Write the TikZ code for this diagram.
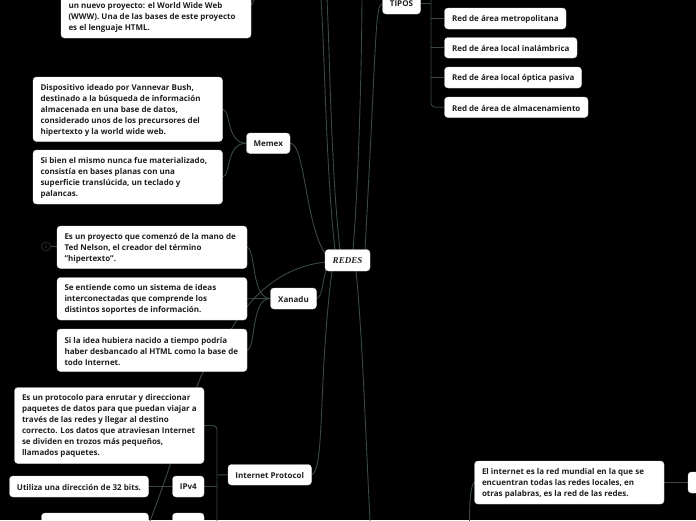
\documentclass[tikz,border=0pt]{standalone}
\usepackage{fontspec}
\setmainfont{Open Sans}
\newfontfamily\redesfont{Liberation Serif}
\pgfdeclarelayer{bglayer}
\pgfdeclarelayer{connlayer}
\pgfsetlayers{bglayer,connlayer,main}
\definecolor{linkc}{HTML}{3A4A40}
\tikzset{
  boxnode/.style={fill=white,draw=white!85!black,line width=0.4pt,rounded corners=3.5pt,inner sep=0pt,font=\fontsize{8}{11}\selectfont\bfseries,text=black!88},
  link/.style={draw=linkc,line width=0.9pt},
  trunk/.style={link,rounded corners=4pt}
}
\newcommand{\tbox}[6]{%
  \pgfmathsetmacro\bw{#4-#2}\pgfmathsetmacro\bh{#5-#3}\pgfmathsetmacro\tw{\bw-15}%
  \pgfmathsetmacro\cx{(#2+#4)/2}\pgfmathsetmacro\cy{(#3+#5)/2}%
  \node[boxnode,minimum width=\bw pt,minimum height=\bh pt] (#1) at (\cx,\cy) {\raisebox{-0.9pt}[\height][\depth]{\makebox[\tw pt][l]{\parbox{400pt}{#6}}}};}
\newcommand{\cbox}[6]{%
  \pgfmathsetmacro\bw{#4-#2}\pgfmathsetmacro\bh{#5-#3}%
  \pgfmathsetmacro\cx{(#2+#4)/2}\pgfmathsetmacro\cy{(#3+#5)/2}%
  \node[boxnode,minimum width=\bw pt,minimum height=\bh pt] (#1) at (\cx,\cy) {\raisebox{-0.5pt}[\height][\depth]{#6}};}
\begin{document}
\begin{tikzpicture}[x=1pt,y=-1pt]
\useasboundingbox (0,0) rectangle (696,520);
\begin{pgfonlayer}{bglayer}
  \fill[black] (0,0) rectangle (696,520);
\end{pgfonlayer}

\tbox{www}{61}{-4}{251}{38}{un nuevo proyecto: el World Wide Web\\(WWW). Una de las bases de este proyecto\\es el lenguaje HTML.}
\tbox{m1}{33}{77}{222.5}{141.5}{Dispositivo ideado por Vannevar Bush,\\destinado a la búsqueda de información\\almacenada en una base de datos,\\considerado unos de los precursores del\\hipertexto y la world wide web.}
\tbox{m2}{33}{150}{222.5}{204}{Si bien el mismo nunca fue materializado,\\consistía en bases planas con una\\superficie translúcida, un teclado y\\palancas.}
\cbox{memex}{246.5}{133}{290}{153.5}{Memex}
\tbox{x1}{57}{226}{247}{268.5}{Es un proyecto que comenzó de la mano de\\Ted Nelson, el creador del término\\"hipertexto".}
\tbox{x2}{57}{277.5}{247}{320}{Se entiende como un sistema de ideas\\interconectadas que comprende los\\distintos soportes de información.}
\tbox{x3}{57}{329}{247}{371.5}{Si la idea hubiera nacido a tiempo podría\\haber desbancado al HTML como la base de\\todo Internet.}
\cbox{xanadu}{270.5}{288}{316.5}{309}{Xanadu}
\tbox{ip1}{14.5}{387.5}{204}{463.5}{Es un protocolo para enrutar y direccionar\\paquetes de datos para que puedan viajar a\\través de las redes y llegar al destino\\correcto. Los datos que atraviesan Internet\\se dividen en trozos más pequeños,\\llamados paquetes.}
\cbox{iproto}{228}{464.5}{311.5}{485}{Internet Protocol}
\cbox{ipv4}{172.5}{476}{204}{497}{IPv4}
\cbox{util}{9.5}{476}{148.5}{497}{Utiliza una dirección de 32 bits.}
\cbox{lowa}{41.5}{513}{148.5}{534}{}
\cbox{lowb}{172.5}{513}{204}{534}{}
\node[boxnode,minimum width=45pt,minimum height=21.5pt,font=\redesfont\fontsize{9}{11}\selectfont\bfseries\itshape] (redes) at (347.5,260.25) {REDES};
\cbox{tipos}{382.5}{-7}{420.5}{14}{TIPOS}
\tbox{t1}{444.5}{8}{566}{29}{Red de área metropolitana}
\tbox{t2}{444.5}{37.5}{577}{58}{Red de área local inalámbrica}
\tbox{t3}{444.5}{67}{581.5}{88}{Red de área local óptica pasiva}
\tbox{t4}{444.5}{97}{588}{117.5}{Red de área de almacenamiento}
\tbox{net}{474.5}{461}{664}{504}{El internet es la red mundial en la que se\\encuentran todas las redes locales, en\\otras palabras, es la red de las redes.}
\tbox{edge}{688}{472}{735}{493}{I}
\node[circle,draw=black!80!white,line width=0.6pt,minimum size=9pt,inner sep=0pt,text=black!75!white,font=\fontsize{5}{5}\selectfont] (badge) at (46,246.5) {2};

\coordinate (ra) at (326,255);
\coordinate (rb) at (335,250);
\coordinate (rc) at (340,250);
\coordinate (rd) at (353,250);
\coordinate (re) at (365,250);
\coordinate (rf) at (325.5,262);
\coordinate (rg) at (326,270);
\coordinate (rh) at (332,271);
\coordinate (ri) at (356,271);
\coordinate (top1) at (321,-1);
\coordinate (top2) at (327,-1);
\coordinate (top3) at (362,-1);
\coordinate (top4) at (254,-1);
\coordinate (low1) at (150,521);
\coordinate (low2) at (370,521);
\coordinate (low3) at (469.5,521);
\coordinate (low4) at (217,521);
\coordinate (tiptop) at (431,-1);

\begin{pgfonlayer}{connlayer}
  \draw[link] (www.east) ++(0,-12) .. controls (252.5,4) .. (top4);
  % Memex
  \draw[link] (m1.east) .. controls (231,110) and (226,143) .. (memex.west);
  \draw[link] (m2.east) .. controls (231,175) and (226,143) .. (memex.west);
  \draw[link] (memex.east) .. controls (305,143) and (305,225) .. (ra);
  % Xanadu
  \draw[link] (x1.east) .. controls (256,250) and (251,298) .. (xanadu.west);
  \draw[link] (x2.east) -- (xanadu.west);
  \draw[link] (x3.east) .. controls (256,347) and (251,298) .. (xanadu.west);
  \draw[link] (xanadu.east) .. controls (322,297) and (322,285) .. (rg);
  % upward trunks
  \draw[link] (top1) .. controls (325,60) and (326,170) .. (rb);
  \draw[link] (top2) .. controls (330,60) and (331,170) .. (rc);
  \draw[link] (top3) .. controls (361.5,80) and (358,190) .. (rd);
  \draw[link] (tipos.west) .. controls (375,6) and (377,30) .. (re);
  % long curve
  \draw[link] (rf) .. controls (290,266) and (258,285) .. (232,328) -- (203,372) .. controls (190,400) and (170,470) .. (low1);
  % Internet Protocol
  \draw[link] (iproto.east) .. controls (325,470) and (318,380) .. (rh);
  \draw[link] (ri) .. controls (362,330) and (365,420) .. (low2);
  \draw[link] (net.west) .. controls (471,484) and (469.5,500) .. (low3);
  \draw[link] (net.east) -- (edge.west);
  \draw[trunk] (ip1.east) -| (low4);
  \draw[link] (iproto.west) -- (217,475);
  \draw[link] (ipv4.east) -- (217,486.5);
  \draw[link] (util.east) -- (ipv4.west);
  % TIPOS
  \draw[link] (tipos.east) -- (431,3.5);
  \draw[trunk] (tiptop) |- (t4.west);
  \draw[link] (431,18.5) -- (t1.west);
  \draw[link] (431,47.75) -- (t2.west);
  \draw[link] (431,77.5) -- (t3.west);
  \draw[draw=linkc,line width=0.6pt] (badge.east) -- (x1.west |- badge.east);
\end{pgfonlayer}
\end{tikzpicture}
\end{document}
